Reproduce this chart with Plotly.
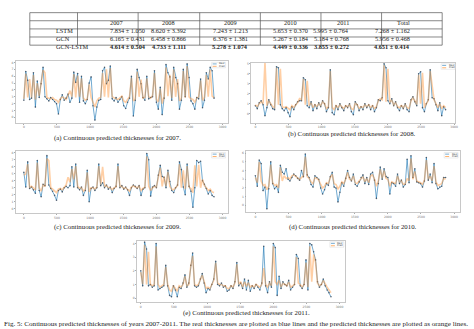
import plotly.graph_objects as go

W, H = 474, 329

# ---------------- table data ----------------
table_cols = ["2007", "2008", "2009", "2010", "2011", "Total"]
row_names = ["LSTM", "GCN", "GCN-LSTM"]
lstm_mean = [7.834, 8.620, 7.243, 5.653, 5.995, 7.268]
lstm_std = [1.050, 3.392, 1.213, 0.370, 0.764, 1.162]
gcn_mean = [6.165, 6.458, 6.376, 5.267, 5.184, 5.956]
gcn_std = [0.431, 0.866, 1.381, 0.184, 0.768, 0.468]
gcnlstm_mean = [4.614, 4.733, 5.278, 4.449, 3.855, 4.651]
gcnlstm_std = [0.504, 1.111, 1.074, 0.336, 0.272, 0.414]

# ---------------- series data ----------------
real_2007 = [2.5,6.7,5.4,2.6,2.8,6.5,1.5,5.3,2.9,4.9,
             7.3,3.0,2.7,2.4,2.9,2.6,2.3,2.0,0.5,2.6,
             3.3,2.5,2.8,3.4,2.2,2.8,6.6,5.1,6.4,2.2,
             6.0,2.4,2.0,2.6,5.0,5.9,1.7,-0.4,1.5,2.5,
             2.6,6.8,7.3,4.9,5.4,7.5,2.7,2.4,2.9,2.2,
             2.6,3.0,1.7,1.3,2.2,2.8,6.0,0.2,2.5,7.0,
             5.8,4.9,2.9,2.5,6.0,2.7,2.9,3.0,6.8,2.2,
             1.2,4.4,0.4,2.8,7.7,6.5,5.9,2.5,7.3,5.8,
             4.9,1.2,2.5,7.0,3.0,7.8,5.8,2.4,2.0,1.2,
             2.9,2.7,5.6,1.4,2.5,6.5,5.6,7.3,6.8,2.8]
pred_2007 = [2.7,6.4,2.9,5.6,2.9,6.2,2.6,5.0,3.1,5.2,
             6.9,6.5,2.9,2.8,2.7,2.9,2.6,2.5,2.2,2.7,
             3.0,2.8,2.6,3.2,3.9,3.0,6.3,2.9,6.1,3.0,
             5.7,2.8,2.5,2.7,4.8,2.9,2.3,1.5,2.4,2.8,
             2.9,6.5,3.0,7.0,2.9,7.2,3.0,2.8,2.7,2.6,
             2.9,3.1,2.4,2.2,2.6,3.0,5.8,2.4,2.7,6.7,
             3.0,5.5,2.8,2.9,5.7,3.0,2.8,3.2,6.5,2.6,
             2.3,4.2,2.0,3.0,7.3,3.1,6.2,2.8,7.0,3.0,
             5.6,2.4,2.8,6.8,2.9,7.5,3.0,2.7,2.6,2.2,
             2.8,3.0,5.4,2.5,2.9,6.2,3.0,7.0,3.1,2.9]

real_2008 = [0.8,0.5,1.1,1.3,0.9,-0.2,0.6,1.4,0.9,0.5,
             0.4,4.7,4.6,0.9,0.5,0.3,0.6,0.1,-0.3,0.7,
             0.4,0.9,1.2,1.3,1.3,3.6,3.4,0.8,0.6,1.2,
             0.3,0.9,0.5,1.1,0.7,1.3,1.0,0.2,0.6,4.4,
             0.1,-0.1,0.8,0.4,1.0,0.6,0.3,0.8,0.6,1.0,
             0.2,-0.1,1.2,0.9,0.3,0.7,0.4,1.0,0.6,0.9,
             0.4,0.8,0.2,0.6,1.4,1.3,1.6,5.0,4.6,1.3,
             1.0,1.5,0.8,1.2,0.6,0.3,0.8,0.5,1.0,0.4,
             0.2,1.4,1.7,1.2,0.8,4.0,4.2,0.6,0.2,1.0,
             1.4,4.4,1.6,1.5,0.9,0.3,1.1,-0.2,0.7,0.4]
pred_2008 = [0.9,0.7,1.0,1.2,1.0,5.2,0.8,1.3,1.0,0.7,
             0.6,4.6,0.9,4.5,0.7,0.6,0.7,0.5,0.4,0.8,
             0.6,0.9,1.1,1.5,1.4,3.5,0.9,3.3,0.8,1.1,
             0.6,0.9,0.7,1.0,0.8,1.2,1.0,0.5,0.7,4.3,
             0.6,0.4,0.8,0.6,0.9,0.7,0.5,0.8,0.7,0.9,
             0.5,0.4,1.1,0.9,0.5,0.7,0.6,0.9,0.7,0.9,
             0.6,0.8,0.5,0.7,1.3,1.5,1.4,4.9,1.2,4.5,
             1.1,1.4,0.9,1.1,0.7,0.6,0.8,0.6,0.9,0.6,
             0.5,1.3,1.6,1.3,0.9,3.9,1.0,4.1,0.6,1.0,
             1.3,4.3,3.0,1.4,1.0,0.6,1.0,0.5,0.8,0.6]

real_2009 = [5.2,3.1,6.7,2.9,3.1,2.7,2.2,6.9,2.6,1.7,
             3.5,3.3,7.6,3.4,2.9,2.5,1.9,1.2,2.6,2.8,
             2.4,3.0,3.2,3.0,3.3,6.0,3.1,6.4,3.0,2.7,
             3.1,1.9,2.6,5.5,1.0,2.9,3.1,2.6,3.0,6.4,
             3.3,3.7,3.0,3.4,2.8,3.1,2.3,2.9,3.2,6.4,
             3.0,3.3,2.8,3.1,2.7,1.9,3.0,3.4,3.2,2.9,
             3.3,1.9,2.8,3.0,7.9,7.0,1.8,3.1,3.3,3.0,
             4.8,6.2,4.6,4.5,3.0,5.5,3.9,2.6,2.3,3.0,
             3.4,6.7,5.6,3.1,2.0,6.4,3.2,2.5,0.2,3.0,
             6.9,6.6,6.8,4.0,3.5,2.9,2.1,2.6,1.9,1.7]
pred_2009 = [4.8,5.0,6.4,3.0,3.2,2.9,2.7,6.6,3.0,2.5,
             3.4,3.2,7.2,6.9,3.0,2.8,2.6,2.3,2.8,2.9,
             2.7,3.1,3.4,4.5,3.8,5.7,4.2,6.1,3.2,2.9,
             3.0,2.5,2.8,5.2,2.4,3.0,3.0,2.8,3.1,6.1,
             3.4,6.0,3.2,3.3,3.0,3.0,2.7,3.0,3.1,6.1,
             3.2,3.2,2.9,3.0,2.8,2.5,3.1,3.3,3.1,3.0,
             3.2,2.6,2.9,3.1,7.5,3.2,2.6,3.0,3.2,3.1,
             4.5,5.9,3.2,4.6,3.2,5.3,3.2,2.8,2.7,3.0,
             3.3,6.4,3.0,5.5,2.8,6.1,3.1,2.9,2.3,6.2,
             3.2,6.3,3.0,4.2,3.3,3.0,2.6,2.8,2.4,2.3]

real_2010 = [3.4,2.2,5.2,4.8,1.7,2.1,-0.4,1.9,5.0,2.5,
             1.9,2.2,1.5,4.6,3.8,3.6,4.2,3.0,2.8,3.2,
             3.6,3.4,3.1,2.9,4.0,3.3,5.9,3.5,3.2,2.4,
             2.1,3.4,3.2,3.0,2.0,1.3,1.8,2.5,2.3,3.3,
             3.8,2.1,2.0,0.4,1.5,2.6,2.2,3.1,4.0,3.2,
             2.8,3.6,2.4,2.2,2.7,3.2,3.5,2.5,3.2,2.4,
             3.6,3.8,2.9,0.8,2.5,4.4,3.0,4.2,3.3,3.2,
             1.3,2.6,2.5,2.2,3.6,2.5,2.9,2.1,2.4,5.3,
             2.6,5.7,3.2,4.2,2.7,2.6,2.5,2.1,2.8,5.5,
             2.9,3.6,2.6,4.8,2.5,1.9,2.1,2.2,3.2,3.2]
pred_2010 = [3.2,2.6,5.0,2.8,2.3,2.4,1.8,2.2,4.7,2.6,
             2.3,2.4,2.0,4.4,2.8,3.4,3.1,3.2,3.0,3.4,
             3.5,3.3,3.2,3.0,3.2,3.4,5.6,3.3,3.1,2.7,
             2.5,3.2,3.1,2.9,2.4,2.0,2.2,2.6,2.5,3.2,
             3.6,2.5,2.4,1.9,2.2,2.7,2.5,3.0,3.8,3.0,
             2.9,3.4,2.6,2.5,2.8,3.1,3.3,2.7,3.1,2.6,
             3.4,3.5,3.0,2.2,2.8,4.2,3.1,4.0,3.1,3.0,
             2.2,2.7,2.6,2.5,3.4,2.7,2.8,2.4,2.5,3.1,
             2.8,5.4,3.0,3.9,2.8,2.7,2.6,2.4,2.9,5.2,
             3.0,3.4,2.8,4.5,2.7,2.3,2.4,2.5,3.1,3.0]

real_2011 = [2.0,0.9,4.1,3.6,0.9,1.0,0.8,0.9,4.0,0.6,
             0.7,0.8,0.9,2.4,0.9,0.2,0.1,0.9,0.6,0.1,
             0.8,0.7,1.1,1.7,0.8,1.1,2.4,3.3,0.9,0.8,
             0.9,1.4,1.8,1.1,0.4,0.7,0.6,1.0,1.4,2.7,
             1.0,0.9,1.1,0.8,0.9,0.5,0.6,0.9,0.7,1.2,
             2.6,0.9,1.1,0.7,1.4,0.6,1.3,0.5,0.9,0.7,
             1.0,0.8,0.6,1.1,3.8,0.9,0.4,1.2,0.8,4.0,
             3.7,0.2,1.6,0.7,1.2,1.0,0.9,1.3,0.6,0.8,
             1.0,3.2,2.9,0.9,0.7,1.0,2.8,0.6,4.0,3.9,
             3.4,2.8,1.2,0.8,1.0,1.4,0.9,0.6,0.4,0.1]
pred_2011 = [1.9,1.0,3.9,1.0,3.4,1.0,0.9,1.0,3.8,1.0,
             0.8,0.9,1.0,2.3,1.0,0.6,0.5,0.9,0.7,0.5,
             0.9,0.8,1.0,1.6,0.9,1.0,2.3,3.1,1.0,0.9,
             1.0,1.3,1.7,1.2,0.7,0.8,0.7,1.0,1.3,2.6,
             1.1,1.0,1.0,0.9,0.9,0.7,0.7,0.9,0.8,1.1,
             2.5,1.0,1.2,0.8,1.2,0.9,1.1,0.8,0.9,0.8,
             1.0,0.9,0.8,1.0,2.2,1.0,0.8,1.1,0.9,3.8,
             1.2,1.0,1.3,0.8,1.1,1.0,0.9,1.2,0.8,0.9,
             1.0,3.0,1.1,1.0,0.8,1.0,2.6,0.8,3.8,1.2,
             3.2,2.6,1.1,0.9,1.0,1.3,1.0,0.8,0.6,0.4]

x_step = 29
x_ticks = [0, 500, 1000, 1500, 2000, 2500, 3000]
captions = ["(a) Continuous predicted thicknesses for 2007.",
            "(b) Continuous predicted thicknesses for 2008.",
            "(c) Continuous predicted thicknesses for 2009.",
            "(d) Continuous predicted thicknesses for 2010.",
            "(e) Continuous predicted thicknesses for 2011."]
legend_labels = ["Real", "Pred"]
bottom_text = ("Fig. 5: Continuous predicted thicknesses of years 2007-2011. The real thicknesses are "
               "plotted as blue lines and the predicted thicknesses are plotted as orange lines.")

def X(px):
    return px / W

def Y(py):
    return 1 - py / H

panels = [
    dict(real=real_2007, pred=pred_2007, box=(16, 60, 229, 122), xr=(-120, 3075), yr=(-0.77, 8.25),
         yt=list(range(0, 9)), cap=(118, 137), leg=(213, 61.5)),
    dict(real=real_2008, pred=pred_2008, box=(253, 62, 458, 122), xr=(-60, 3015), yr=(-0.9, 5.1),
         yt=list(range(0, 6)), cap=(354, 133), leg=(444, 63)),
    dict(real=real_2009, pred=pred_2009, box=(16, 150, 229, 213), xr=(-120, 3075), yr=(-0.67, 8.33),
         yt=list(range(0, 9)), cap=(118, 227), leg=(213, 152)),
    dict(real=real_2010, pred=pred_2010, box=(248, 150, 463, 212), xr=(-135, 3090), yr=(-0.8, 6.3),
         yt=list(range(0, 7)), cap=(355, 227), leg=(447, 152)),
    dict(real=real_2011, pred=pred_2011, box=(138, 240.5, 347, 302), xr=(-55, 3080), yr=(-0.29, 4.2),
         yt=list(range(0, 5)), cap=(248, 313), leg=(332, 241.5)),
]

fig = go.Figure()
layout_axes = {}
shapes = []
annotations = []
serif = "Liberation Serif"
tick_font = dict(family="DejaVu Sans", size=3, color="#777")

for k, p in enumerate(panels):
    n = k + 1
    xa = "x" if n == 1 else f"x{n}"
    ya = "y" if n == 1 else f"y{n}"
    xs_r = [x_step * i for i in range(len(p["real"]))]
    xs_p = [x_step * i for i in range(len(p["pred"]))]
    fig.add_trace(go.Scatter(x=xs_r, y=p["real"], mode="lines+markers", xaxis=xa, yaxis=ya,
                             line=dict(color="rgba(31,119,180,0.9)", width=0.7),
                             marker=dict(size=1.6, color="rgba(50,60,75,0.75)"), showlegend=False))
    fig.add_trace(go.Scatter(x=xs_p, y=p["pred"], mode="lines", xaxis=xa, yaxis=ya,
                             line=dict(color="rgba(255,140,40,0.42)", width=1.6), showlegend=False))
    l, t, r, b = p["box"]
    common = dict(showgrid=False, zeroline=False, showline=True, mirror=True,
                  linecolor="#c8c8c8", linewidth=0.8, ticks="outside", ticklen=1,
                  tickcolor="#aaa", tickwidth=0.5, tickfont=tick_font)
    layout_axes["xaxis" if n == 1 else f"xaxis{n}"] = dict(
        domain=[X(l), X(r)], range=list(p["xr"]), anchor=ya,
        tickvals=x_ticks, ticktext=[str(v) for v in x_ticks], **common)
    layout_axes["yaxis" if n == 1 else f"yaxis{n}"] = dict(
        domain=[Y(b), Y(t)], range=list(p["yr"]), anchor=xa,
        tickvals=p["yt"], ticktext=[str(v) for v in p["yt"]], **common)
    cx, cy = p["cap"]
    annotations.append(dict(x=X(cx), y=Y(cy), xref="paper", yref="paper", text=captions[k],
                            showarrow=False, xanchor="center", yanchor="middle",
                            font=dict(family=serif, size=6.8, color="#222")))
    lx, ly = p["leg"]
    shapes.append(dict(type="rect", xref="paper", yref="paper", x0=X(lx), x1=X(lx + 14),
                       y0=Y(ly + 5.5), y1=Y(ly), line=dict(color="#d8d8d8", width=0.5),
                       fillcolor="white"))
    for j, (lab, col) in enumerate(zip(legend_labels, ["#1f77b4", "#ff7f0e"])):
        yy = ly + 1.6 + j * 2.4
        shapes.append(dict(type="line", xref="paper", yref="paper", x0=X(lx + 1), x1=X(lx + 5),
                           y0=Y(yy), y1=Y(yy), line=dict(color=col, width=0.6)))
        annotations.append(dict(x=X(lx + 5.6), y=Y(yy), xref="paper", yref="paper", text=lab,
                                showarrow=False, xanchor="left", yanchor="middle",
                                font=dict(family="DejaVu Sans", size=2.5, color="#444")))

# ---------------- table ----------------
col_edges = [30, 78, 139, 201, 262, 323, 384, 445]
row_edges = [11.7, 19.8, 28.0, 36.1, 44.3]
for xe in col_edges:
    shapes.append(dict(type="line", xref="paper", yref="paper", x0=X(xe), x1=X(xe),
                       y0=Y(row_edges[0]), y1=Y(row_edges[-1]), line=dict(color="#555", width=0.7)))
for ye in row_edges:
    shapes.append(dict(type="line", xref="paper", yref="paper", x0=X(col_edges[0]), x1=X(col_edges[-1]),
                       y0=Y(ye), y1=Y(ye), line=dict(color="#555", width=0.7)))

def cell_center(ci, ri):
    return X((col_edges[ci] + col_edges[ci + 1]) / 2), Y((row_edges[ri] + row_edges[ri + 1]) / 2 + 0.3)

cell_font = dict(family=serif, size=6.3, color="#222")
for ci, name in enumerate(table_cols):
    cx, cy = cell_center(ci + 1, 0)
    annotations.append(dict(x=cx, y=cy, xref="paper", yref="paper", text=name, showarrow=False,
                            font=cell_font))
rows = [(lstm_mean, lstm_std, False), (gcn_mean, gcn_std, False), (gcnlstm_mean, gcnlstm_std, True)]
for ri, (means, stds, bold) in enumerate(rows):
    cx, cy = cell_center(0, ri + 1)
    annotations.append(dict(x=cx, y=cy, xref="paper", yref="paper", text=row_names[ri], showarrow=False,
                            font=cell_font))
    for ci, (m, s) in enumerate(zip(means, stds)):
        cx, cy = cell_center(ci + 1, ri + 1)
        txt = f"{m:.3f} ± {s:.3f}"
        if bold:
            txt = f"<b>{txt}</b>"
        annotations.append(dict(x=cx, y=cy, xref="paper", yref="paper", text=txt, showarrow=False,
                                font=cell_font))

annotations.append(dict(x=X(237), y=Y(323.5), xref="paper", yref="paper", text=bottom_text,
                        showarrow=False, xanchor="center", yanchor="middle",
                        font=dict(family=serif, size=7.1, color="#222")))

fig.update_layout(width=W, height=H, autosize=False, margin=dict(l=0, r=0, t=0, b=0),
                  paper_bgcolor="white", plot_bgcolor="white", showlegend=False,
                  shapes=shapes, annotations=annotations, **layout_axes)

fig.write_html("out.html")
